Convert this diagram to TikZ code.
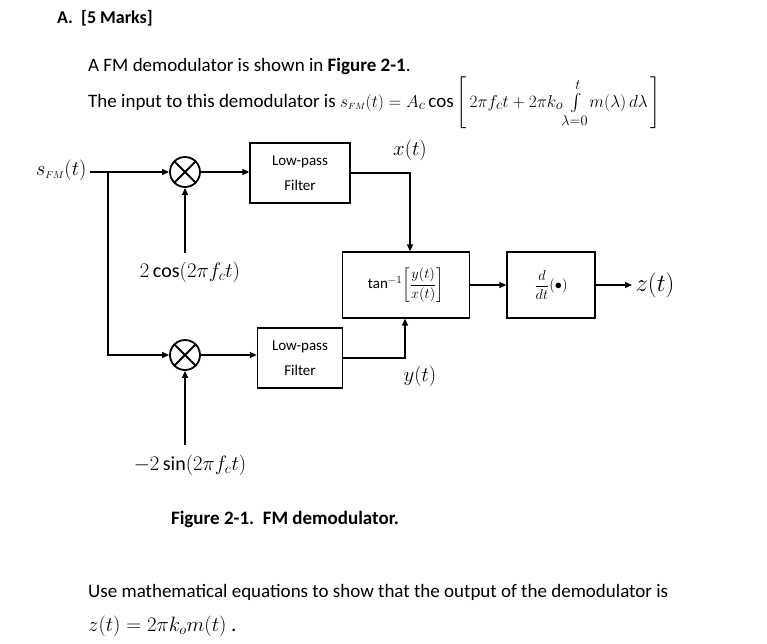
\documentclass[tikz,border=0pt]{standalone}
\usepackage{amsmath}
\usepackage{fontspec}
\setmainfont{Carlito}
\usetikzlibrary{arrows.meta}
\begin{document}
\begin{tikzpicture}[x=1pt,y=-1pt,
  box/.style={draw,line width=1.3pt,minimum width=#1},
  mix/.style={draw,line width=1.8pt,circle,minimum size=30pt,inner sep=0pt},
  arr/.style={line width=1.3pt,-{Triangle[length=7pt,width=6pt]}},
  txt/.style={anchor=west,font=\fontsize{19}{21}\selectfont,inner sep=0pt}]
\useasboundingbox (0,0) rectangle (767,643);
\node[txt,font=\fontsize{18}{20}\selectfont\bfseries] (hdr) at (57,18) {A.\ \ [5 Marks]};
\node[txt] (l1) at (88,66) {A FM demodulator is shown in \textbf{Figure 2-1}.};
\node[txt] (l2) at (88,103) {The input to this demodulator is {\fontsize{19}{21}\selectfont$s_{\scriptscriptstyle FM}(t)=A_c\cos\left[\,2\pi f_c t+2\pi k_o\!\int\limits_{\lambda=0}^{t}\! m(\lambda)\,d\lambda\,\right]$}};
% diagram
\node[anchor=east,font=\fontsize{20}{22}\selectfont] (sin) at (90,170) {$s_{\scriptscriptstyle FM}(t)$};
\node[mix] (m1) at (185,172) {};
\node[mix] (m2) at (185,355) {};
\foreach \m in {m1,m2}{
 \draw[line width=1.8pt] (\m.north west)--(\m.south east) (\m.north east)--(\m.south west);}
\coordinate (j) at (108,172);
\draw[arr] (sin.east |- j) -- (m1.west);
\draw[arr] (j) |- (m2.west);
\node[box=100pt,minimum height=60pt,align=center,font=\fontsize{15}{25}\selectfont] (f1) at (300,173) {Low-pass\\Filter};
\node[box=85pt,minimum height=60pt,align=center,font=\fontsize{15}{25}\selectfont] (f2) at (300,358) {Low-pass\\Filter};
\draw[arr] (m1.east) -- (f1.west |- m1.east);
\draw[arr] (m2.east) -- (f2.west |- m2.east);
\node[box=127pt,minimum height=66pt,font=\fontsize{15}{16}\selectfont] (at) at (406,285) {tan$^{-1}\!\left[\dfrac{y(t)}{x(t)}\right]$};
\node[box=88pt,minimum height=66pt,font=\fontsize{15}{16}\selectfont] (dd) at (551,285) {$\dfrac{d}{dt}(\bullet)$};
\draw[arr] (f1.east) -| ([xshift=4pt]at.north);
\draw[arr] (f2.east) -| ([xshift=-1pt]at.south);
\draw[arr] (at.east) -- (dd.west);
\node[anchor=west,font=\fontsize{24}{26}\selectfont] (z) at (632,285) {$z(t)$};
\draw[arr] (dd.east) -- (z.west);
\node[font=\fontsize{20}{22}\selectfont] (xl) at (410,150) {$x(t)$};
\node[font=\fontsize{20}{22}\selectfont] (yl) at (420,376) {$y(t)$};
\node[font=\fontsize{20}{22}\selectfont] (c1) at (190,272) {$2\cos(2\pi f_c t)$};
\node[font=\fontsize{20}{22}\selectfont] (c2) at (190,465) {$-2\sin(2\pi f_c t)$};
\draw[arr] (185,253) -- (m1.south);
\draw[arr] (185,445) -- (m2.south);
\node[font=\fontsize{19}{21}\selectfont\bfseries] (cap) at (285,519) {Figure 2-1.\ \ FM demodulator.};
\node[txt] (l3) at (88,592) {Use mathematical equations to show that the output of the demodulator is};
\node[txt,font=\fontsize{21}{22}\selectfont] (l4) at (88,626) {$z(t)=2\pi k_o m(t)$\ .};
\end{tikzpicture}
\end{document}
